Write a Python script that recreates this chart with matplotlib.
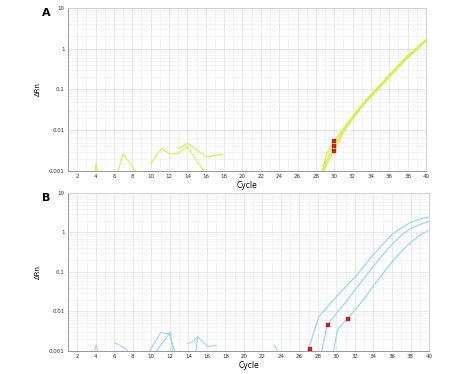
import matplotlib
matplotlib.use("Agg")
import matplotlib.pyplot as plt
from matplotlib.ticker import FixedLocator, NullFormatter

# ---- panel A (yellow-green curves) ----
a_amp = [
    ([28.7, 29.2, 30, 31, 32, 33, 34, 35, 36, 37, 38, 39, 40],
     [0.001, 0.0028, 0.0052, 0.011, 0.022, 0.042, 0.075, 0.13, 0.23, 0.4, 0.68, 1.05, 1.7]),
    ([28.7, 29.6, 30, 31, 32, 33, 34, 35, 36, 37, 38, 39, 40],
     [0.001, 0.003, 0.0042, 0.0095, 0.02, 0.039, 0.07, 0.12, 0.21, 0.37, 0.63, 1.0, 1.62]),
    ([28.8, 30, 31, 32, 33, 34, 35, 36, 37, 38, 39, 40],
     [0.001, 0.0032, 0.009, 0.019, 0.037, 0.066, 0.115, 0.2, 0.35, 0.6, 0.95, 1.55]),
]
a_noise = [
    ([3.9, 4.05, 4.2], [0.0009, 0.0016, 0.0009]),
    ([6.4, 7.0, 8.5], [0.0009, 0.0026, 0.0009]),
    ([10.0, 11.2, 12.1, 13.0, 14.0, 15.9], [0.0015, 0.0036, 0.0026, 0.0027, 0.0040, 0.0009]),
    ([13.0, 14.0, 15.0, 16.1, 17.9], [0.0035, 0.0048, 0.0033, 0.0022, 0.0026]),
]
a_ct_x = [30, 30, 30]
a_ct_y = [0.0053, 0.0041, 0.0031]

# ---- panel B (light blue curves) ----
b_amp = [
    ([26.9, 28.1, 29, 30, 31, 32, 33, 34, 35, 36, 37, 38, 39, 40],
     [0.001, 0.0074, 0.013, 0.024, 0.042, 0.075, 0.14, 0.28, 0.5, 0.9, 1.3, 1.8, 2.2, 2.5]),
    ([28.4, 29.0, 30, 31, 32, 33, 34, 35, 36, 37, 38, 39, 40],
     [0.001, 0.0045, 0.009, 0.017, 0.035, 0.07, 0.14, 0.27, 0.5, 0.85, 1.25, 1.6, 1.9]),
    ([29.7, 30.1, 31, 32, 33, 34, 35, 36, 37, 38, 39, 40],
     [0.001, 0.0034, 0.006, 0.011, 0.021, 0.045, 0.09, 0.18, 0.33, 0.55, 0.85, 1.15]),
]
b_noise = [
    ([3.85, 4.0, 4.1, 4.25], [0.0009, 0.0014, 0.0013, 0.0009]),
    ([6.1, 7.2, 7.6], [0.0016, 0.00117, 0.0009]),
    ([9.7, 11.0, 11.9, 12.6], [0.0009, 0.0029, 0.0028, 0.0009]),
    ([10.4, 12.1, 12.3], [0.0009, 0.0031, 0.0009]),
    ([13.9, 14.5, 15.0, 15.7, 16.1, 17.0], [0.00156, 0.0017, 0.0023, 0.0016, 0.0013, 0.0014]),
    ([14.8, 15.0], [0.0009, 0.0023]),
    ([23.3, 23.7], [0.0014, 0.0009]),
]
b_ct_x = [27.1, 29.1, 31.2]
b_ct_y = [0.00112, 0.0045, 0.0065]

xticks = list(range(2, 41, 2))
yticks = [0.001, 0.01, 0.1, 1, 10]
ytick_labels = ["0.001", "0.01", "0.1", "1", "10"]

fig = plt.figure(figsize=(4.74, 3.74), dpi=100)


def setup(ax, letter):
    ax.set_yscale("log")
    ax.set_xlim(1, 40)
    ax.set_ylim(0.001, 10)
    ax.set_xticks(xticks)
    ax.set_xticklabels([str(t) for t in xticks])
    ax.set_yticks(yticks)
    ax.set_yticklabels(ytick_labels)
    ax.xaxis.set_minor_locator(FixedLocator(range(1, 41)))
    ax.yaxis.set_minor_formatter(NullFormatter())
    ax.tick_params(which="both", length=0, labelsize=4, colors="#333333", pad=2.5)
    ax.grid(True, which="major", color="#dedede", lw=0.5)
    ax.grid(True, which="minor", color="#ececec", lw=0.4)
    ax.set_axisbelow(True)
    for s in ax.spines.values():
        s.set_color("#cccccc")
        s.set_linewidth(0.6)
    ax.spines["left"].set_color("#888888")
    ax.spines["bottom"].set_color("#888888")
    ax.set_xlabel("Cycle", fontsize=5.5, labelpad=1)
    ax.set_ylabel("ΔRn", fontsize=5, labelpad=6)
    ax.text(-0.05, 1.0, letter, transform=ax.transAxes, fontsize=8,
            fontweight="bold", ha="right", va="top")


axA = fig.add_axes([0.1435, 0.5428, 0.7553, 0.4358])
setup(axA, "A")
for x, y in a_noise:
    axA.plot(x, y, color="#d6ef4c", lw=0.8)
for x, y in a_amp:
    axA.plot(x, y, color="#d6ef4c", lw=1.0)
axA.plot(a_ct_x, a_ct_y, "s", ms=2.4, color="#d42020", mec="#8a1010", mew=0.2)

axB = fig.add_axes([0.1435, 0.0615, 0.7616, 0.4225])
setup(axB, "B")
for x, y in b_noise:
    axB.plot(x, y, color="#9fd6ec", lw=0.8)
for x, y in b_amp:
    axB.plot(x, y, color="#9fd6ec", lw=0.9)
axB.plot(b_ct_x, b_ct_y, "s", ms=2.6, color="#d42020", mec="#8a1010", mew=0.2)

fig.savefig("out.png", dpi=100)
